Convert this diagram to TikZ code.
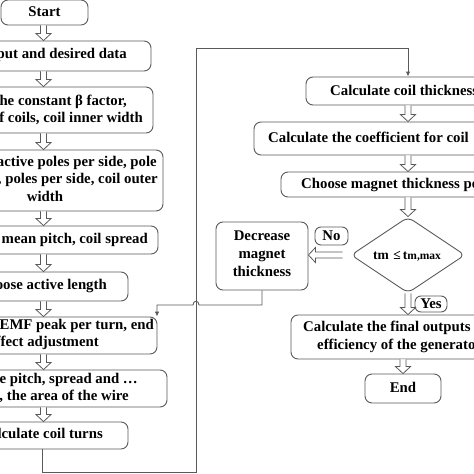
\documentclass[tikz,border=0pt]{standalone}
\usepackage{fontspec}
\setmainfont{Liberation Serif}
\usetikzlibrary{arrows.meta,shapes.geometric,calc}
\definecolor{lineg}{HTML}{5A5A5A}
\newcommand\hdown[2]{\path[hollow] let \p1=#1, \p2=#2 in ({\x1-3pt},\y1) -- ({\x1-3pt},{\y2+7pt}) -- ({\x1-7.5pt},{\y2+7pt}) -- (\x1,\y2) -- ({\x1+7.5pt},{\y2+7pt}) -- ({\x1+3pt},{\y2+7pt}) -- ({\x1+3pt},\y1);}
\newcommand\hleft[2]{\path[hollow] let \p1=#1, \p2=#2 in (\x1,{\y1-3pt}) -- ({\x2+7pt},{\y1-3pt}) -- ({\x2+7pt},{\y1-7.5pt}) -- (\x2,\y1) -- ({\x2+7pt},{\y1+7.5pt}) -- ({\x2+7pt},{\y1+3pt}) -- (\x1,{\y1+3pt});}
\begin{document}
\begin{tikzpicture}[x=1pt,y=-1pt,
  box/.style={draw=lineg, line width=0.9pt, rounded corners=7pt, inner sep=0pt},
  txt/.style={font=\bfseries\fontsize{14.8}{16}\selectfont, inner sep=0pt, text height=10pt, text depth=3pt},
  tagbox/.style={draw=lineg, line width=0.9pt, rounded corners=6pt, inner sep=0pt, font=\bfseries\fontsize{14.8}{16}\selectfont},
  hollow/.style={draw=lineg, fill=white, line width=0.8pt, line join=miter},
  larrow/.style={draw=lineg, line width=0.9pt, -{Latex[length=5pt,width=4.5pt]}}]
\useasboundingbox (0,0) rectangle (474,474);
\fill[white] (0,0) rectangle (474,474);
\clip (0,0) rectangle (474,474);
% left column boxes
\node[box, minimum width=87pt, minimum height=25pt, txt] (start) at (44.5,12.5) {Start};
\node[box, minimum width=215pt, minimum height=30pt] (input) at (43.5,56) {};
\node[box, minimum width=219pt, minimum height=46pt] (beta) at (43.5,110) {};
\node[box, minimum width=239pt, minimum height=61pt] (poles) at (43.5,180.5) {};
\node[box, minimum width=229pt, minimum height=28pt] (mean) at (43.5,240) {};
\node[box, minimum width=169pt, minimum height=29pt] (len) at (43.5,286.5) {};
\node[box, minimum width=227pt, minimum height=37pt] (emf) at (43.5,335.5) {};
\node[box, minimum width=247pt, minimum height=37pt] (pitch) at (43.5,388.5) {};
\node[box, minimum width=169pt, minimum height=27pt] (turns) at (43.5,435.5) {};
% left column texts
\node[txt, anchor=east] (t1) at (127,55) {input and desired data};
\node[txt, anchor=east] (t2a) at (127,102) {the constant β factor,};
\node[txt, anchor=east] (t2b) at (143,119) {of coils, coil inner width};
\node[txt, anchor=east] (t3a) at (157,163) {active poles per side, pole};
\node[txt, anchor=east] (t3b) at (158,180) {, poles per side, coil outer};
\node[txt] (t3c) at (45,198) {width};
\node[txt, anchor=east] (t4) at (148,240) {the mean pitch, coil spread};
\node[txt, anchor=east] (t5) at (107,286) {Choose active length};
\node[txt, anchor=east] (t6a) at (154,326) {EMF peak per turn, end};
\node[txt, anchor=east] (t6b) at (99,343) {effect adjustment};
\node[txt, anchor=east] (t7a) at (138,380) {the pitch, spread and …};
\node[txt, anchor=east] (t7b) at (129,397) {, the area of the wire};
\node[txt, anchor=east] (t8) at (103,435) {Calculate coil turns};
% right column boxes
\node[box, minimum width=204pt, minimum height=28pt] (thick) at (408,91) {};
\node[box, minimum width=308pt, minimum height=33pt] (coef) at (408,138.5) {};
\node[box, minimum width=254pt, minimum height=25pt] (mag) at (408,184.5) {};
\node[draw=lineg, line width=0.9pt, diamond, rounded corners=6pt, minimum width=114pt, minimum height=76pt, inner sep=0pt] (dia) at (408,255) {};
\node[inner sep=0pt, font=\bfseries] (diat) at (407,256) {\fontsize{13.5}{15}\selectfont tm\,\,≤\,t\fontsize{11.5}{13}\selectfont m,max};
\node[box, minimum width=92pt, minimum height=68pt] (dec) at (262,256) {};
\node[box, minimum width=224pt, minimum height=44pt] (final) at (403,337) {};
\node[box, minimum width=76pt, minimum height=29pt, txt] (end) at (403,388.5) {End};
\node[tagbox, minimum width=33pt, minimum height=18pt] (no) at (331.5,236) {No};
\node[tagbox, minimum width=32pt, minimum height=16pt] (yes) at (431,304) {Yes};
% right column texts
\node[txt, anchor=west] (r1) at (330,92) {Calculate coil thickness};
\node[txt, anchor=west] (r2) at (268,139) {Calculate the coefficient for coil};
\node[txt, anchor=west] (r3) at (301,185) {Choose magnet thickness per};
\node[txt] (d1) at (262,237) {Decrease};
\node[txt] (d2) at (262,255) {magnet};
\node[txt] (d3) at (262,273) {thickness};
\node[txt, anchor=west] (f1) at (303,328) {Calculate the final outputs and};
\node[txt, anchor=west] (f2) at (317,346) {efficiency of the generator};
% hollow arrows
\hdown{(start.south -| input.north)}{(input.north)}
\hdown{(input.south)}{(beta.north)}
\hdown{(beta.south)}{(poles.north)}
\hdown{(poles.south)}{(mean.north)}
\hdown{(mean.south)}{(len.north)}
\hdown{(len.south)}{(emf.north)}
\hdown{(emf.south)}{(pitch.north)}
\hdown{(pitch.south)}{(turns.north)}
\hdown{(thick.south)}{(coef.north)}
\hdown{(coef.south)}{(mag.north)}
\hdown{(mag.south)}{(dia.north)}
\hdown{(dia.south)}{(final.north -| dia.south)}
\hdown{(final.south)}{(end.north)}
\hleft{([xshift=-8pt]dia.west)}{(dec.east)}
% loop lines
\coordinate (lb) at (42.5,472);
\coordinate (rb) at (196,472);
\coordinate (rt) at (196,48);
\draw[larrow] (turns.south -| lb) -- (lb) -- (rb) -- (rt) -- (rt -| thick) -- (thick.north);
\coordinate (dj) at (262,305);
\coordinate (h1) at (199,305);
\coordinate (h2) at (193,305);
\coordinate (emfin) at (157,305);
\draw[larrow] (dec.south) -- (dj) -- (h1) .. controls (199,300) and (193,300) .. (h2) -- (emfin) -- (emfin |- emf.north);
\end{tikzpicture}
\end{document}
